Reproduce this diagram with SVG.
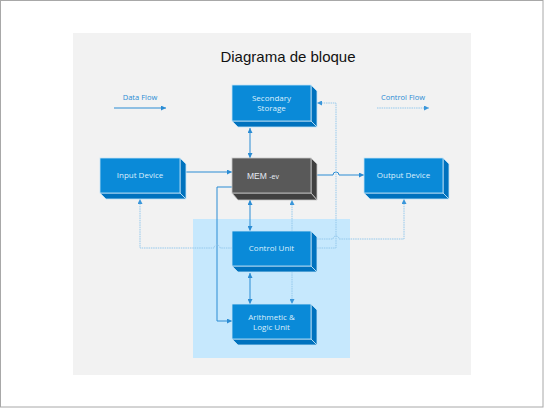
<svg xmlns="http://www.w3.org/2000/svg" width="544" height="408" viewBox="0 0 544 408">
<defs>
<style>
.front{fill:#0A8AD8;stroke:#C4E4F8;stroke-width:0.8}
.side{fill:#0072BE;stroke:#C4E4F8;stroke-width:0.8}
.mfront{fill:#595959;stroke:#C8C8C8;stroke-width:0.8}
.mside{fill:#404040;stroke:#C8C8C8;stroke-width:0.8}
.lbl{font-family:"Open Sans","Noto Sans",sans-serif;font-size:8px;fill:#DCEFFC;text-anchor:middle}
.solid{fill:none;stroke:#2A8CD4;stroke-width:1}
.dash{fill:none;stroke:#94C8EC;stroke-width:1;stroke-dasharray:1.5 0.8}
.leg{font-family:"Open Sans","Noto Sans",sans-serif;font-size:7.5px;fill:#2A8CD4;text-anchor:middle}
</style>
<marker id="as" viewBox="0 0 6 6" refX="6" refY="3" markerWidth="5" markerHeight="5" markerUnits="userSpaceOnUse" orient="auto-start-reverse">
<path d="M0,0 L6,3 L0,6 Z" fill="#2A8CD4"/>
</marker>
<marker id="ad" viewBox="0 0 6 6" refX="6" refY="3" markerWidth="5" markerHeight="5" markerUnits="userSpaceOnUse" orient="auto-start-reverse">
<path d="M0,0 L6,3 L0,6 Z" fill="#3A96DA"/>
</marker>
</defs>
<rect x="0.5" y="0.5" width="542.5" height="406.5" fill="#FFFFFF" stroke="#A8A8A8" stroke-width="1"/>
<rect x="73" y="33" width="398" height="342" fill="#F2F2F2"/>
<rect x="193" y="219" width="157" height="139" fill="#C6E8FD"/>
<text x="288" y="62" font-family="Liberation Sans, Arial, sans-serif" font-size="15" fill="#111111" text-anchor="middle">Diagrama de bloque</text>

<g id="legend">
<text class="leg" x="140" y="99.5">Data Flow</text>
<line class="solid" x1="114" y1="108" x2="166" y2="108" marker-end="url(#as)"/>
<text class="leg" x="403" y="99.5">Control Flow</text>
<line class="dash" x1="377" y1="108" x2="429" y2="108" marker-end="url(#ad)"/>
</g>

<g id="connectors">
<line class="solid" x1="250" y1="128" x2="250" y2="158" marker-start="url(#as)" marker-end="url(#as)"/>
<line class="solid" x1="250" y1="200" x2="250" y2="231" marker-start="url(#as)" marker-end="url(#as)"/>
<line class="solid" x1="250" y1="273" x2="250" y2="304" marker-start="url(#as)" marker-end="url(#as)"/>
<line class="solid" x1="186" y1="172" x2="232" y2="172" marker-end="url(#as)"/>
<path class="solid" d="M317,175 H333 A3,3 0 0 1 339,175 H364" marker-end="url(#as)"/>
<path class="solid" d="M232,187 H217 V321 H232" marker-end="url(#as)"/>
<path class="dash" d="M232,248 H220 A3,3 0 0 0 214,248 H140 V199" marker-end="url(#ad)"/>
<path class="dash" d="M317,239 H333 A3,3 0 0 1 339,239 H404 V199" marker-end="url(#ad)"/>
<path class="dash" d="M317,248 H336 V103 H317" marker-end="url(#ad)"/>
<line class="dash" x1="292" y1="231" x2="292" y2="200" marker-end="url(#ad)"/>
<line class="dash" x1="292" y1="272" x2="292" y2="304" marker-end="url(#ad)"/>
</g>

<g id="secondary-storage">
<polygon class="side" points="311,85 317,91 317,127 311,121"/>
<polygon class="side" points="232,121 311,121 317,127 238,127"/>
<rect class="front" x="232" y="85" width="79" height="36"/>
<text class="lbl" x="271.5" y="100.5">Secondary</text>
<text class="lbl" x="271.5" y="110.5">Storage</text>
</g>

<g id="mem">
<polygon class="mside" points="311,158 317,164 317,200 311,193"/>
<polygon class="mside" points="232,193 311,193 317,200 238,200"/>
<rect class="mfront" x="232" y="158" width="79" height="35"/>
<text x="247" y="179" font-family="Liberation Sans, Arial, sans-serif" font-size="8.5" fill="#E4EAF2">MEM <tspan font-size="7">-ev</tspan></text>
</g>

<g id="input-device">
<polygon class="side" points="180,158 186,164 186,199 180,193"/>
<polygon class="side" points="100,193 180,193 186,199 106,199"/>
<rect class="front" x="100" y="158" width="80" height="35"/>
<text class="lbl" x="140" y="178">Input Device</text>
</g>

<g id="output-device">
<polygon class="side" points="443,158 449,164 449,199 443,193"/>
<polygon class="side" points="364,193 443,193 449,199 370,199"/>
<rect class="front" x="364" y="158" width="79" height="35"/>
<text class="lbl" x="403.5" y="178">Output Device</text>
</g>

<g id="control-unit">
<polygon class="side" points="311,231 317,237 317,272 311,266"/>
<polygon class="side" points="232,266 311,266 317,272 238,272"/>
<rect class="front" x="232" y="231" width="79" height="35"/>
<text class="lbl" x="271.5" y="251">Control Unit</text>
</g>

<g id="alu">
<polygon class="side" points="311,304 317,310 317,345 311,339"/>
<polygon class="side" points="232,339 311,339 317,345 238,345"/>
<rect class="front" x="232" y="304" width="79" height="35"/>
<text class="lbl" x="271.5" y="319.5">Arithmetic &amp;</text>
<text class="lbl" x="271.5" y="329.5">Logic Unit</text>
</g>
</svg>
